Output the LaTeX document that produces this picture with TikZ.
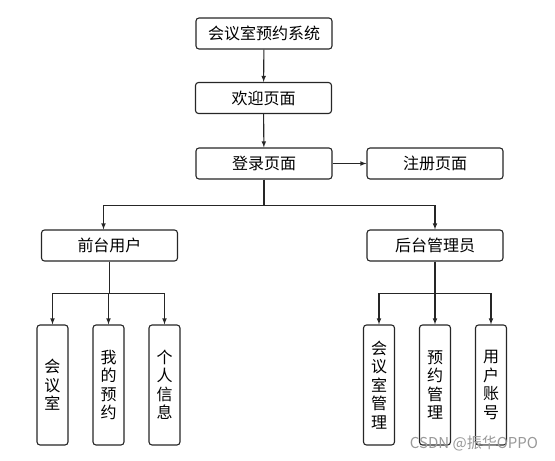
\documentclass[tikz,border=0pt]{standalone}
\usepackage{fontspec}
\setmainfont{Noto Sans CJK SC}
\usetikzlibrary{arrows}

\begin{document}
\begin{tikzpicture}[>=latex, x=1pt, y=-1pt,
    line/.style={line width=1.1pt, draw=black!85},
    box/.style={line, rounded corners=3pt, fill=white,
      minimum width=136pt, minimum height=31pt, inner sep=0pt,
      font=\fontsize{16}{18}\selectfont},
    vbox/.style={box, minimum width=31pt, minimum height=120pt,
      align=center, font=\fontsize{16}{18.5}\selectfont}]
    \useasboundingbox (0,0) rectangle (555,461);
    \node [box] (sys) at (264,33.5) {会议室预约系统};
    \node [box] (welcome) at (263.5,98) {欢迎页面};
    \node [box] (login) at (264,163.5) {登录页面};
    \node [box] (reg) at (435,163.5) {注册页面};
    \node [box] (front) at (109.5,245.5) {前台用户};
    \node [box] (back) at (435,245.5) {后台管理员};
    \node [vbox] (room) at (52.5,385) {会\\议\\室};
    \node [vbox] (mine) at (108.5,385) {我\\的\\预\\约};
    \node [vbox] (info) at (164.5,385) {个\\人\\信\\息};
    \node [vbox] (roomadm) at (379,385) {会\\议\\室\\管\\理};
    \node [vbox] (bookadm) at (435,385) {预\\约\\管\\理};
    \node [vbox] (account) at (491,385) {用\\户\\账\\号};
    \draw [->, line] (sys) -- (welcome);
    \draw [->, line] (welcome) -- (login);
    \draw [->, line] (login) -- (reg);
    \draw [->, line] (login.south) --++ (0,26) -| ([xshift=-6pt]front.north);
    \draw [->, line] (login.south) --++ (0,26) -| (back.north);
    \foreach \k in {room,mine,info}
      \draw [->, line] (front.south) --++ (0,32) -| (\k.north);
    \foreach \k in {roomadm,bookadm,account}
      \draw [->, line] (back.south) --++ (0,32) -| (\k.north);
    \node [text=black!40, font=\fontsize{15}{16}\selectfont] (mark) at (474,443) {CSDN @振华OPPO};
  \end{tikzpicture}
\end{document}
